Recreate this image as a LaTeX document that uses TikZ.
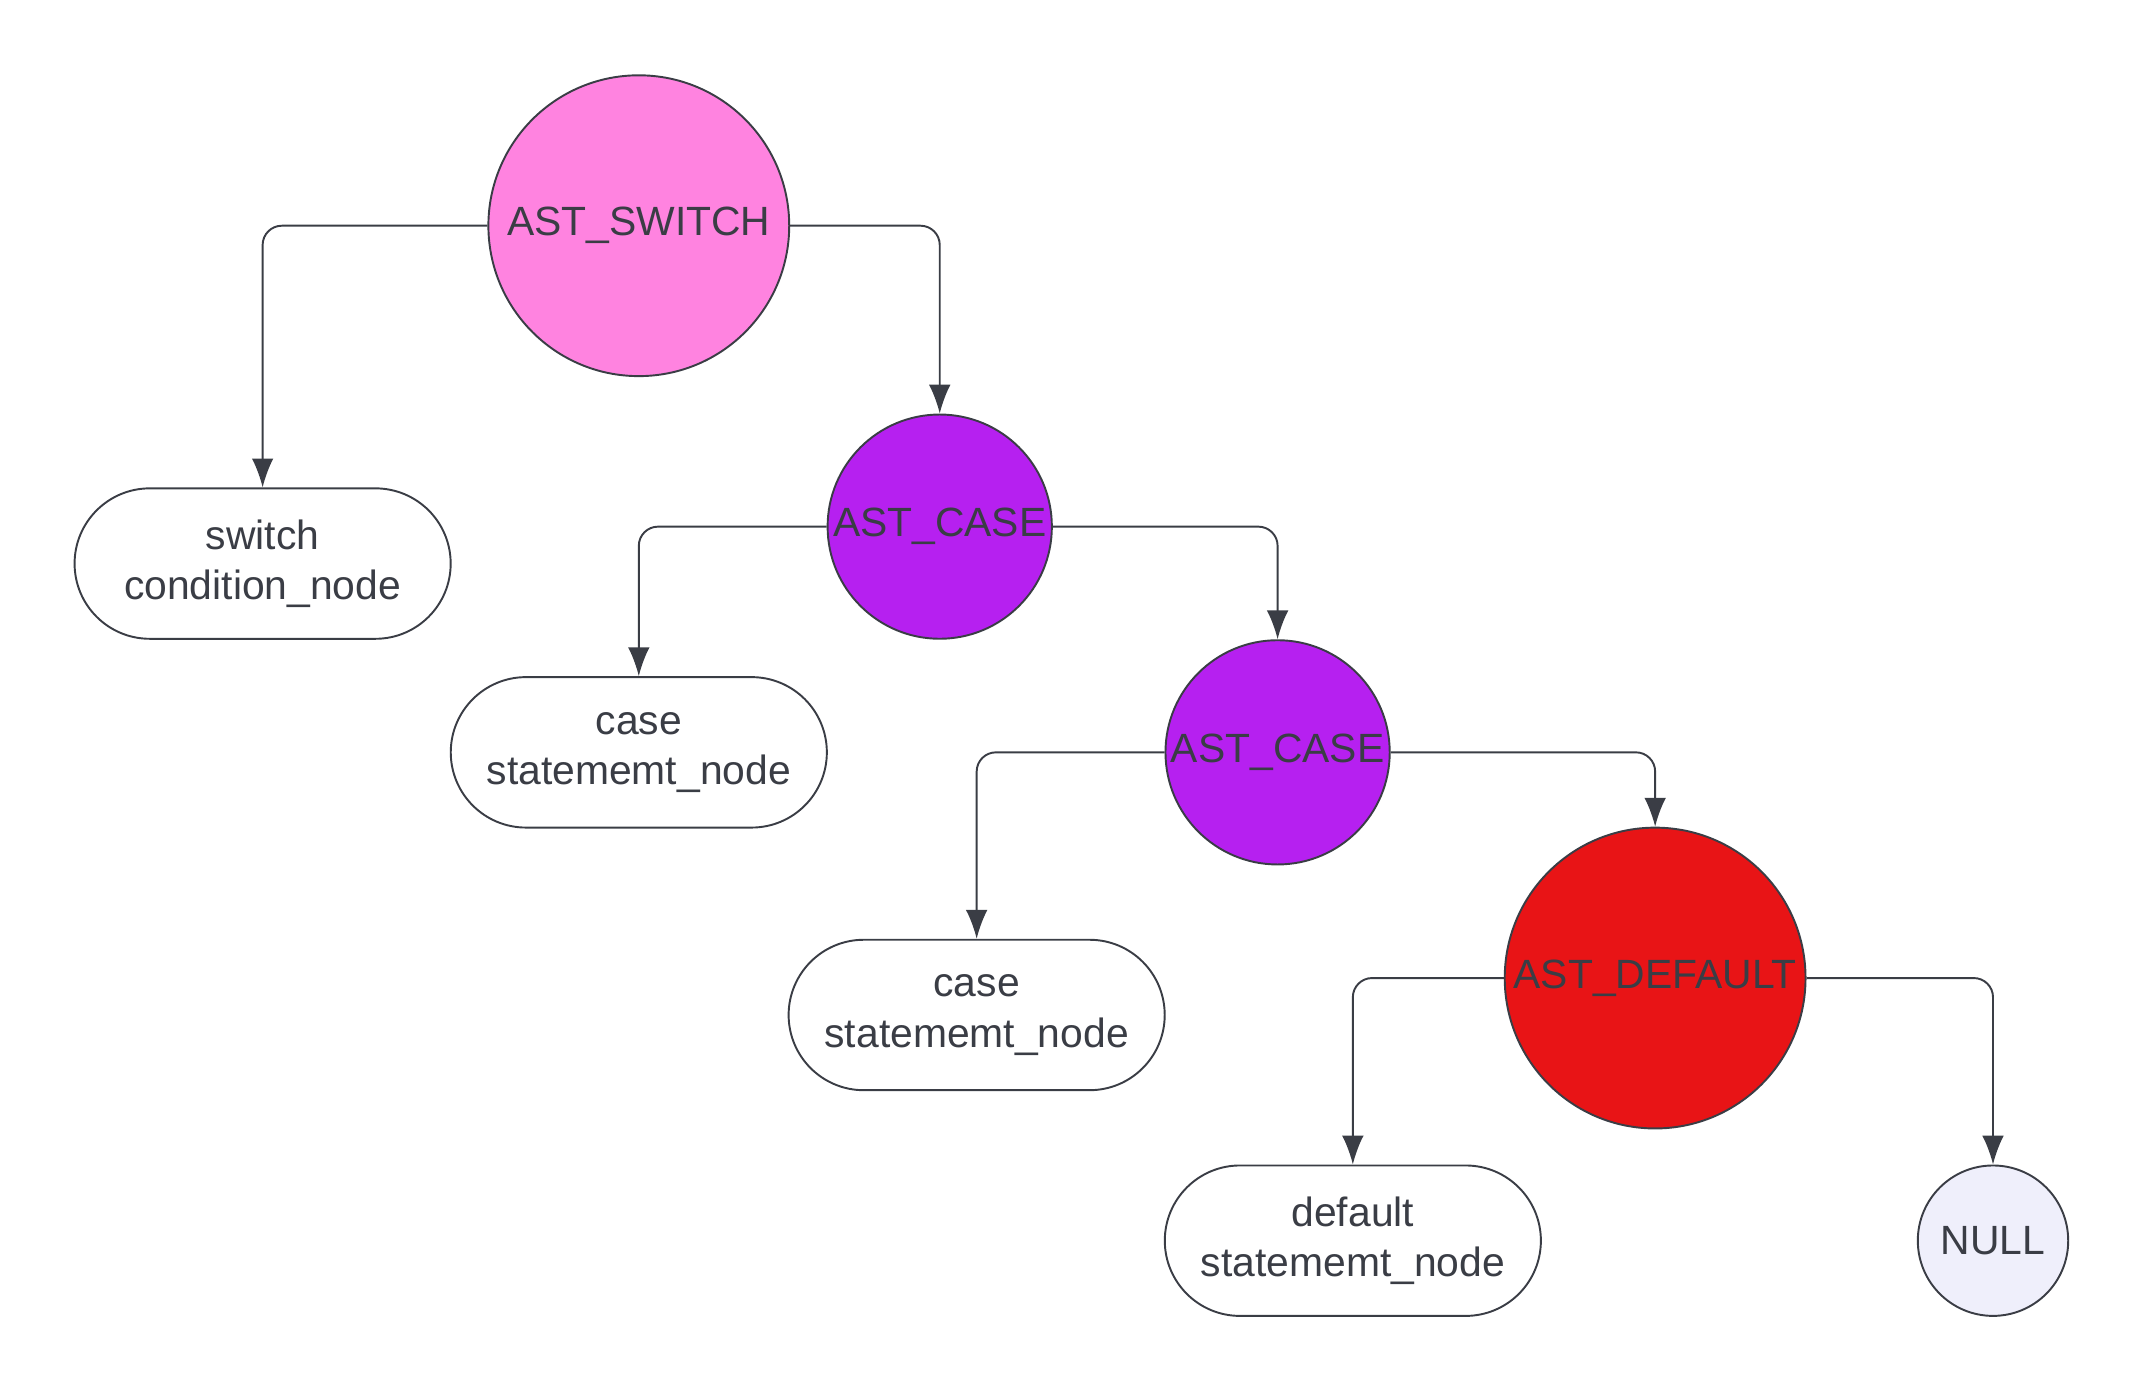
\documentclass[tikz,border=0pt]{standalone}
\usepackage{fontspec}
\setmainfont{Liberation Sans}
\usetikzlibrary{arrows.meta}
\definecolor{ln}{HTML}{3A3D45}
\definecolor{pinkc}{HTML}{FF83E0}
\definecolor{purp}{HTML}{B620F0}
\definecolor{redc}{HTML}{E81416}
\definecolor{nullc}{HTML}{EFEFFB}
\begin{document}
\begin{tikzpicture}[x=0.02cm,y=-0.02cm,
  every node/.style={text=ln,font=\fontsize{17}{21}\selectfont},
  circ/.style={circle,draw=ln,line width=0.8pt,inner sep=0pt,minimum size=#1*0.04cm},
  term/.style={draw=ln,line width=0.8pt,rounded corners=1.1cm,minimum width=5.5cm,minimum height=2.2cm,align=center,inner sep=0pt},
  edge/.style={draw=ln,line width=0.8pt,rounded corners=8pt,-{Latex[length=12pt,width=9pt]}}]
\useasboundingbox (0,0) rectangle (1563,1015);
\node[circ=110,fill=pinkc] (sw) at (467,165) {AST\_SWITCH};
\node[term] (cond) at (192,412) {switch\\condition\_node};
\node[circ=82,fill=purp] (c1) at (687,385) {AST\_CASE};
\node[term] (s1) at (467,550) {case\\statememt\_node};
\node[circ=82,fill=purp] (c2) at (934,550) {AST\_CASE};
\node[term] (s2) at (714,742) {case\\statememt\_node};
\node[circ=110,fill=redc] (df) at (1210,715) {AST\_DEFAULT};
\node[term] (s3) at (989,907) {default\\statememt\_node};
\node[circ=55,fill=nullc] (nl) at (1457,907) {NULL};
\draw[edge] (sw.west) -| (cond.north);
\draw[edge] (sw.east) -| (c1.north);
\draw[edge] (c1.west) -| (s1.north);
\draw[edge] (c1.east) -| (c2.north);
\draw[edge] (c2.west) -| (s2.north);
\draw[edge] (c2.east) -| (df.north);
\draw[edge] (df.west) -| (s3.north);
\draw[edge] (df.east) -| (nl.north);
\end{tikzpicture}
\end{document}
